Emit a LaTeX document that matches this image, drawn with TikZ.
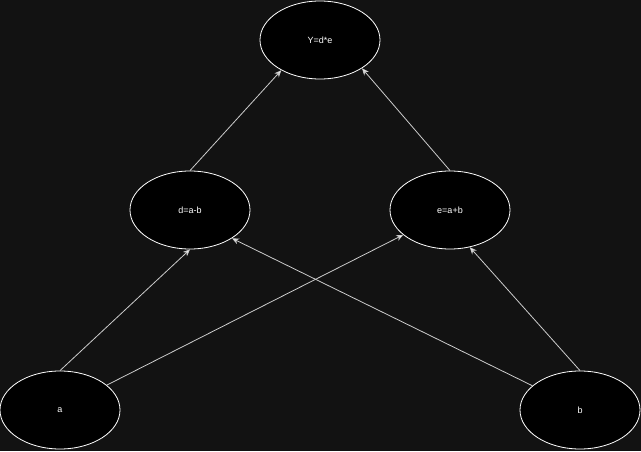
\documentclass[tikz,border=0pt]{standalone}
\usepackage{fontspec}
\setmainfont{Liberation Sans}
\usetikzlibrary{arrows.meta,shapes.geometric}
\begin{document}
\begin{tikzpicture}[x=1pt,y=1pt,
  ell/.style={ellipse,draw=white,fill=black,minimum width=120pt,minimum height=78pt,inner sep=0pt,text=white,font=\fontsize{9}{10}\selectfont,line width=0.8pt},
  conn/.style={draw=white!80!black,line width=0.8pt,-{Stealth[length=7pt,width=6pt,fill=white]}}]
\fill[black!93] (0,0) rectangle (641,451);
\useasboundingbox (0,0) rectangle (641,451);
\node[ell] (Y) at (320,411) {Y=d*e};
\node[ell] (d) at (190,241) {d=a-b};
\node[ell] (e) at (450,241) {e=a+b};
\node[ell] (a) at (60,41) {a};
\node[ell] (b) at (580,41) {b};
\draw[conn] (a.north) -- (d.south);
\draw[conn] (a.28) -- (e.208);
\draw[conn] (b.153) -- (d.-34);
\draw[conn] (b.north) -- (e.-62);
\draw[conn] (d.north) -- (Y.218);
\draw[conn] (e.north) -- (Y.-34);
\end{tikzpicture}
\end{document}
